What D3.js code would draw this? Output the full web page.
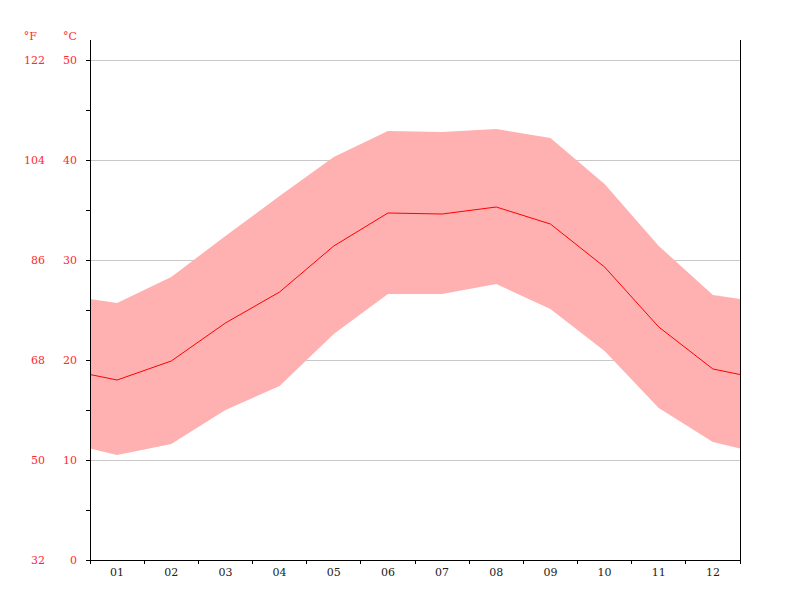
<!DOCTYPE html>
<html>
<head>
<meta charset="utf-8">
<script src="https://cdn.jsdelivr.net/npm/d3@7"></script>
<style>
  body { margin: 0; background: #fff; }
  text { font-family: "DejaVu Serif", serif; font-size: 11px; }
  line { shape-rendering: crispEdges; }
</style>
</head>
<body>
<div id="viz"></div>
<script>
var w = 800;
var h = 600;

// data: monthly temperatures in °C
var months = ["01", "02", "03", "04", "05", "06", "07", "08", "09", "10", "11", "12"];
var tempMax = [25.7, 28.3, 32.4, 36.4, 40.3, 42.9, 42.8, 43.1, 42.2, 37.6, 31.4, 26.5];
var tempAvg = [18.0, 19.9, 23.7, 26.8, 31.4, 34.7, 34.6, 35.3, 33.6, 29.3, 23.3, 19.1];
var tempMin = [10.5, 11.6, 15.0, 17.4, 22.6, 26.6, 26.6, 27.6, 25.1, 20.9, 15.2, 11.8];
var celsiusTicks = [0, 10, 20, 30, 40, 50];
var fahrenheitTicks = [32, 50, 68, 86, 104, 122];

var plotLeft = 90, plotRight = 740, plotTop = 40, plotBottom = 560;

var svg = d3.select("#viz")
    .append("svg")
    .attr("width", w)
    .attr("height", h);

var x = d3.scaleLinear()
    .domain([0.5, 12.5])
    .range([plotLeft, plotRight]);

var y = d3.scaleLinear()
    .domain([0, 50])
    .range([plotBottom, 60]);

var band = d3.scaleBand()
    .domain(months)
    .range([plotLeft, plotRight]);

// series points, wrapped at both edges with the Dec/Jan midpoint
var points = months.map(function (m, i) {
    return { pos: i + 1, max: tempMax[i], avg: tempAvg[i], min: tempMin[i] };
});
var edge = {
    max: (tempMax[0] + tempMax[11]) / 2,
    avg: (tempAvg[0] + tempAvg[11]) / 2,
    min: (tempMin[0] + tempMin[11]) / 2
};
points.unshift({ pos: 0.5, max: edge.max, avg: edge.avg, min: edge.min });
points.push({ pos: 12.5, max: edge.max, avg: edge.avg, min: edge.min });

// grid lines
svg.append("g").selectAll("line")
    .data(celsiusTicks.filter(function (d) { return d > 0; }))
    .enter().append("line")
    .attr("x1", plotLeft)
    .attr("x2", plotRight)
    .attr("y1", function (d) { return y(d); })
    .attr("y2", function (d) { return y(d); })
    .attr("stroke", "#c8c8c8")
    .attr("stroke-width", 1);

// range area
var area = d3.area()
    .x(function (d) { return x(d.pos); })
    .y0(function (d) { return y(d.min); })
    .y1(function (d) { return y(d.max); });

svg.append("path")
    .datum(points)
    .attr("d", area)
    .attr("fill", "#ffb0b0");

// mean line
var line = d3.line()
    .x(function (d) { return x(d.pos); })
    .y(function (d) { return y(d.avg); });

svg.append("path")
    .datum(points)
    .attr("d", line)
    .attr("fill", "none")
    .attr("stroke", "#ff0000")
    .attr("stroke-width", 1);

// left axis ticks every 5°C
var yAxis = svg.append("g")
    .attr("transform", "translate(" + plotLeft + ",0)")
    .call(d3.axisLeft(y).tickValues(d3.range(0, 51, 5)).tickSize(4).tickFormat(""));
yAxis.select(".domain").remove();
yAxis.selectAll(".tick line").attr("stroke", "#000");

svg.append("line")
    .attr("x1", plotLeft).attr("x2", plotLeft)
    .attr("y1", plotTop).attr("y2", plotBottom)
    .attr("stroke", "#000");

svg.append("line")
    .attr("x1", plotRight).attr("x2", plotRight)
    .attr("y1", plotTop).attr("y2", plotBottom + 4)
    .attr("stroke", "#000");

// celsius labels
svg.append("g").selectAll("text")
    .data(celsiusTicks)
    .enter().append("text")
    .attr("x", 77)
    .attr("y", function (d) { return y(d); })
    .attr("dy", "0.35em")
    .attr("text-anchor", "end")
    .attr("fill", "#ff2a2a")
    .text(function (d) { return d; });

// fahrenheit labels
svg.append("g").selectAll("text")
    .data(fahrenheitTicks)
    .enter().append("text")
    .attr("x", 45)
    .attr("y", function (d, i) { return y(celsiusTicks[i]); })
    .attr("dy", "0.35em")
    .attr("text-anchor", "end")
    .attr("fill", "#ff2a2a")
    .text(function (d) { return d; });

svg.append("text")
    .attr("x", 37).attr("y", 36).attr("dy", "0.35em")
    .attr("text-anchor", "end")
    .attr("fill", "#ff2a2a")
    .text("°F");

svg.append("text")
    .attr("x", 77).attr("y", 36).attr("dy", "0.35em")
    .attr("text-anchor", "end")
    .attr("fill", "#ff2a2a")
    .text("°C");

// bottom axis
svg.append("line")
    .attr("x1", plotLeft).attr("x2", plotRight)
    .attr("y1", plotBottom).attr("y2", plotBottom)
    .attr("stroke", "#000");

svg.append("g").selectAll("line")
    .data(months)
    .enter().append("line")
    .attr("x1", function (d) { return band(d); })
    .attr("x2", function (d) { return band(d); })
    .attr("y1", plotBottom)
    .attr("y2", plotBottom + 4)
    .attr("stroke", "#000");

svg.append("g").selectAll("text")
    .data(months)
    .enter().append("text")
    .attr("x", function (d) { return band(d) + band.bandwidth() / 2; })
    .attr("y", 572)
    .attr("dy", "0.35em")
    .attr("text-anchor", "middle")
    .attr("fill", "#222")
    .text(function (d) { return d; });
</script>
</body>
</html>
